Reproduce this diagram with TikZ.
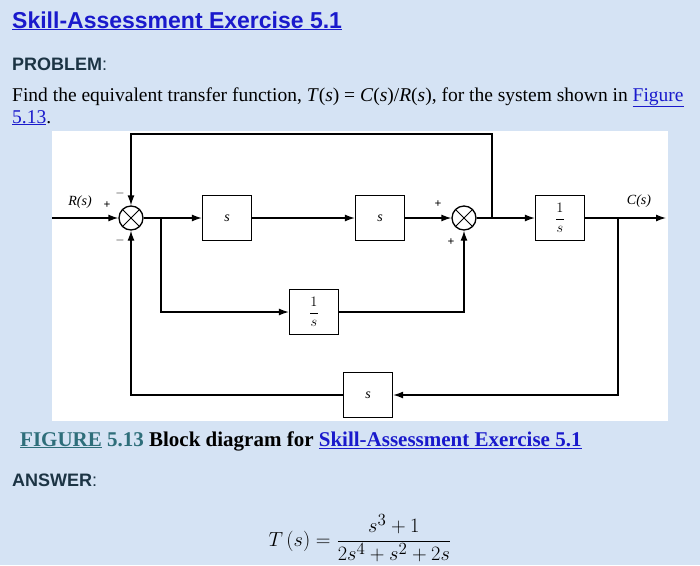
\documentclass[tikz,border=0pt]{standalone}
\usepackage{fontspec}
\setmainfont{Liberation Serif}
\setsansfont{Liberation Sans}
\usetikzlibrary{arrows.meta}
\definecolor{bgc}{HTML}{D5E3F4}
\definecolor{linkc}{HTML}{1A1ACC}
\definecolor{headc}{HTML}{1C3444}
\definecolor{figc}{HTML}{2E6E7A}
\begin{document}
\begin{tikzpicture}[x=1pt,y=-1pt,
  blk/.style={draw,line width=1.3pt,fill=white,minimum width=49pt,minimum height=45pt,inner sep=0pt,font=\itshape\fontsize{14}{14}\selectfont},
  sumj/.style={draw,line width=1.3pt,circle,minimum size=24pt,inner sep=0pt,fill=white,
    path picture={\draw[line width=1pt] (path picture bounding box.north west)--(path picture bounding box.south east)
      (path picture bounding box.north east)--(path picture bounding box.south west);}},
  ln/.style={line width=1.3pt},
  ar/.style={line width=1.3pt,-{Latex[length=10pt,width=7pt]}},
  sg/.style={font=\bfseries\fontsize{12}{12}\selectfont},
  txt/.style={anchor=base west,inner sep=0pt}]
\fill[bgc] (0,0) rectangle (700,565);
\useasboundingbox (0,0) rectangle (700,565);
\node[txt,font=\sffamily\bfseries\fontsize{23}{23}\selectfont,text=linkc] (title) at (12,28) {\underline{Skill-Assessment Exercise 5.1}};
\node[txt,font=\sffamily\fontsize{18}{18}\selectfont,text=headc] (prob) at (12,70) {\textbf{PROBLEM}:};
\node[txt,font=\fontsize{19.5}{19.5}\selectfont] (l1) at (12,101) {Find the equivalent transfer function, \textit{T}(\textit{s}) = \textit{C}(\textit{s})/\textit{R}(\textit{s}), for the system shown in \textcolor{linkc}{\underline{Figure}}};
\node[txt,font=\fontsize{19.5}{19.5}\selectfont] (l2) at (12,123) {\textcolor{linkc}{\underline{5.13}}.};
\fill[white] (52,131) rectangle (668,421);
% diagram
\node[sumj] (s1) at (131,218) {};
\node[blk] (b1) at (227,218) {s};
\node[blk] (b2) at (380,218) {s};
\node[sumj] (s2) at (464,218) {};
\node[blk] (b3) at (560,218) {$\displaystyle\frac{1}{s}$};
\node[blk] (b4) at (314,312) {$\displaystyle\frac{1}{s}$};
\node[blk] (b5) at (368,395) {s};
\coordinate (in) at (52,218);
\coordinate (out) at (666,218);
\coordinate (p1) at (161,218);
\coordinate (p2) at (492,218);
\coordinate (p3) at (618,218);
\draw[ar] (in) -- (s1);
\draw[ln] (s1) -- (p1);
\draw[ar] (p1) -- (b1);
\draw[ar] (b1) -- (b2);
\draw[ar] (b2) -- (s2);
\draw[ln] (s2) -- (p2);
\draw[ar] (p2) -- (b3);
\draw[ar] (b3) -- (out);
\draw[ar] (p2) |- (131,134) -- (s1);
\draw[ar] (p1) |- (b4);
\draw[ar] (b4) -| (s2);
\draw[ar] (p3) |- (b5);
\draw[ar] (b5) -| (s1);
\node[font=\itshape\fontsize{14}{14}\selectfont] (rl) at (80,202) {R(s)};
\node[sg] (m1) at (107,205) {+};
\node[sg] (m2) at (120,193) {$-$};
\node[sg] (m3) at (120,240) {$-$};
\node[sg] (m4) at (438,204) {+};
\node[sg] (m5) at (451,242) {+};
\node[font=\itshape\fontsize{14}{14}\selectfont] (cl) at (639,201) {C(s)};
% caption
\node[txt,font=\bfseries\fontsize{21}{21}\selectfont] (cap) at (20,446) {\textcolor{figc}{\underline{FIGURE} 5.13} Block diagram for \textcolor{linkc}{\underline{Skill-Assessment Exercise 5.1}}};
\node[txt,font=\sffamily\fontsize{18}{18}\selectfont,text=headc] (ans) at (12,486) {\textbf{ANSWER}:};
\node[font=\fontsize{19}{19}\selectfont] (eq) at (360,538) {\scalebox{1.18}{$\displaystyle T\left(s\right)=\frac{s^3+1}{2s^4+s^2+2s}$}};
\end{tikzpicture}
\end{document}
